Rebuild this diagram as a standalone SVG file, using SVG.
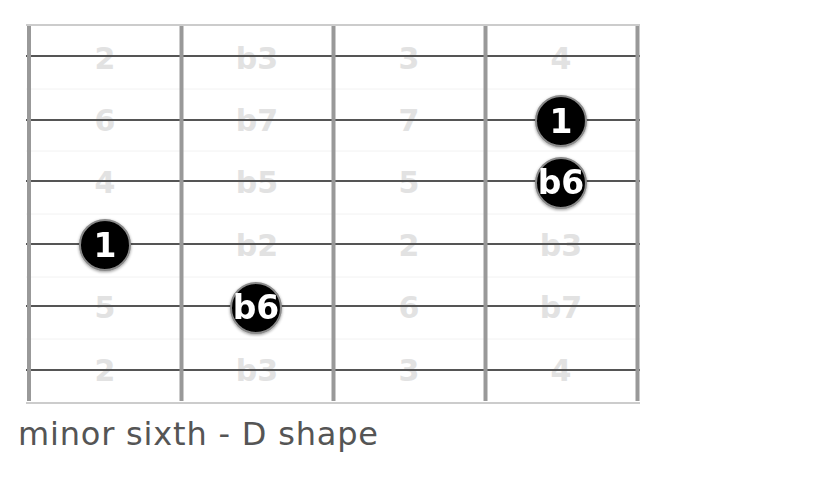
<svg xmlns="http://www.w3.org/2000/svg" width="840" height="482" viewBox="0 0 840 482">
<defs>
<filter id="sh" x="-30%" y="-30%" width="160%" height="160%"><feGaussianBlur in="SourceAlpha" stdDeviation="1.5"/><feOffset dy="1"/><feComponentTransfer><feFuncA type="linear" slope="0.4"/></feComponentTransfer><feMerge><feMergeNode/><feMergeNode in="SourceGraphic"/></feMerge></filter>
</defs>
<style>
.border{stroke:#cccccc;stroke-width:2}
.cell{stroke:#f2f2f2;stroke-width:1}
.fret{stroke:#999999;stroke-width:4}
.str{stroke:#555555;stroke-width:2}
.iv{font-family:"DejaVu Sans",Verdana,sans-serif;font-weight:bold;font-size:30px;fill:#e2e2e2;text-anchor:middle}
.dot circle{fill:#000000;stroke:#8a8a8a;stroke-width:2}
.dot text{font-family:"DejaVu Sans",Verdana,sans-serif;font-weight:bold;font-size:33px;fill:#ffffff;text-anchor:middle}
.cap{font-family:"DejaVu Sans",Verdana,sans-serif;font-size:32px;fill:#555555}
</style>
<rect width="840" height="482" fill="#ffffff"/>
<g id="grid">
<line class="border" x1="26" y1="25" x2="640" y2="25"/>
<line class="border" x1="26" y1="403" x2="640" y2="403"/>
<g>
<line class="cell" x1="26" y1="89" x2="640" y2="89"/>
<line class="cell" x1="26" y1="151" x2="640" y2="151"/>
<line class="cell" x1="26" y1="214" x2="640" y2="214"/>
<line class="cell" x1="26" y1="277" x2="640" y2="277"/>
<line class="cell" x1="26" y1="339" x2="640" y2="339"/>
</g>
</g>
<g id="labels">
<text class="iv" x="105" y="69">2</text><text class="iv" x="257" y="69">b3</text><text class="iv" x="409" y="69">3</text><text class="iv" x="561" y="69">4</text>
<text class="iv" x="105" y="131">6</text><text class="iv" x="257" y="131">b7</text><text class="iv" x="409" y="131">7</text>
<text class="iv" x="105" y="193">4</text><text class="iv" x="257" y="193">b5</text><text class="iv" x="409" y="193">5</text>
<text class="iv" x="257" y="256">b2</text><text class="iv" x="409" y="256">2</text><text class="iv" x="561" y="256">b3</text>
<text class="iv" x="105" y="318">5</text><text class="iv" x="409" y="318">6</text><text class="iv" x="561" y="318">b7</text>
<text class="iv" x="105" y="381">2</text><text class="iv" x="257" y="381">b3</text><text class="iv" x="409" y="381">3</text><text class="iv" x="561" y="381">4</text>
</g>
<g id="strings">
<line class="str" x1="26" y1="56" x2="640" y2="56"/>
<line class="str" x1="26" y1="120" x2="640" y2="120"/>
<line class="str" x1="26" y1="181" x2="640" y2="181"/>
<line class="str" x1="26" y1="244" x2="640" y2="244"/>
<line class="str" x1="26" y1="306" x2="640" y2="306"/>
<line class="str" x1="26" y1="370" x2="640" y2="370"/>
</g>
<g id="frets">
<line class="fret" x1="29" y1="26" x2="29" y2="401"/>
<line class="fret" x1="181.5" y1="26" x2="181.5" y2="401"/>
<line class="fret" x1="333.5" y1="26" x2="333.5" y2="401"/>
<line class="fret" x1="485.5" y1="26" x2="485.5" y2="401"/>
<line class="fret" x1="637.5" y1="26" x2="637.5" y2="401"/>
</g>
<g id="dot-1-low" class="dot" filter="url(#sh)"><circle cx="105" cy="245" r="25"/><text x="105" y="257">1</text></g>
<g id="dot-b6-low" class="dot" filter="url(#sh)"><circle cx="256" cy="308" r="25"/><text x="256" y="319">b6</text></g>
<g id="dot-1-high" class="dot" filter="url(#sh)"><circle cx="561" cy="121" r="25"/><text x="561" y="133">1</text></g>
<g id="dot-b6-high" class="dot" filter="url(#sh)"><circle cx="561" cy="183" r="25"/><text x="561" y="194">b6</text></g>
<text class="cap" x="18" y="445" textLength="360" lengthAdjust="spacing">minor sixth - D shape</text>
</svg>
